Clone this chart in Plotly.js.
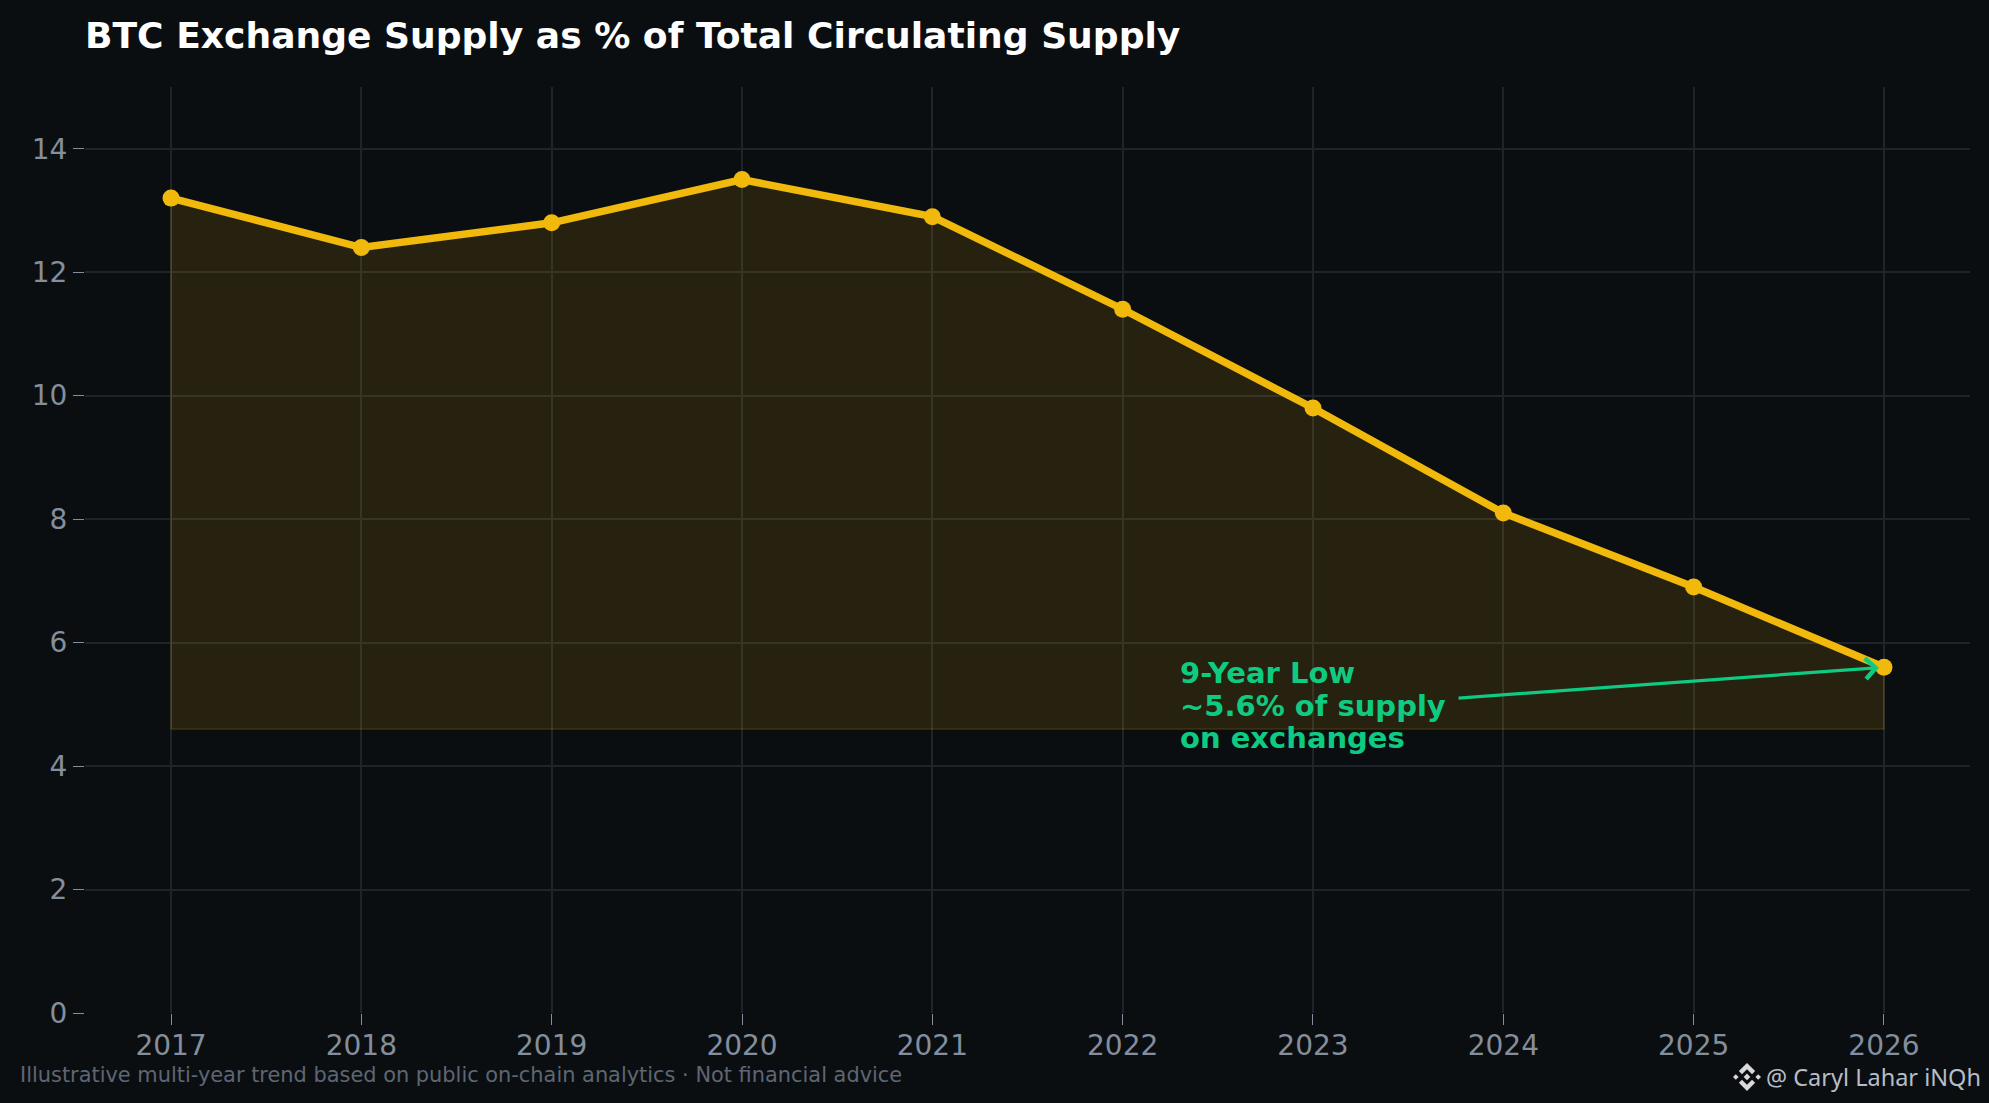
<!DOCTYPE html>
<html>
<head>
<meta charset="utf-8">
<script src="https://cdn.plot.ly/plotly-3.0.1.min.js"></script>
<style>
  html, body { margin: 0; padding: 0; background: #0b0e11; }
  #chart { width: 1989px; height: 1103px; }
</style>
</head>
<body>
<div id="chart"></div>
<script>
  const years = [2017, 2018, 2019, 2020, 2021, 2022, 2023, 2024, 2025, 2026];
  const supplyPct = [13.2, 12.4, 12.8, 13.5, 12.9, 11.4, 9.8, 8.1, 6.9, 5.6];
  const fillFloor = 4.6;
  const yTicks = [0, 2, 4, 6, 8, 10, 12, 14];
  const noteLines = ['9-Year Low', '~5.6% of supply', 'on exchanges'];
  const noteLineY = [5.5, 4.98, 4.46];

  const W = 1989;
  const H = 1103;
  const BG = '#0b0e11';
  const GOLD = '#f0b90b';
  const GREEN = '#0ecb81';
  const MUTED = '#848e9c';
  const GRID = '#20242a';
  const FONT = '"DejaVu Sans", sans-serif';

  const margin = { l: 85, r: 19, t: 86.5, b: 90, pad: 0 };

  // pixel to paper helpers, for the things that sit outside the axes
  const px = v => (v - margin.l) / (W - margin.l - margin.r);
  const py = v => 1 - (v - margin.t) / (H - margin.t - margin.b);

  const areaTrace = {
    x: [...years, years[years.length - 1], years[0], years[0]],
    y: [...supplyPct, fillFloor, fillFloor, supplyPct[0]],
    type: 'scatter',
    mode: 'lines',
    fill: 'toself',
    fillcolor: 'rgba(240,185,11,0.12)',
    line: { color: 'rgba(240,185,11,0.2)', width: 1.3 },
    hoverinfo: 'skip'
  };

  const lineTrace = {
    x: years,
    y: supplyPct,
    type: 'scatter',
    mode: 'lines+markers',
    line: { color: GOLD, width: 7.5 },
    marker: { color: GOLD, size: 17 }
  };

  function logoShape(cx, cy, s) {
    const diamond = (dx, dy, r) => {
      const x = cx + dx * s, y = cy + dy * s, d = r * s;
      return `M${px(x - d)},${py(y)}L${px(x)},${py(y - d)}L${px(x + d)},${py(y)}L${px(x)},${py(y + d)}Z`;
    };
    const chevron = (dir) => {
      const a = (x, y) => `${px(cx + x * s)},${py(cy + y * dir * s)}`;
      return `M${a(0, -1)}L${a(0.58, -0.42)}L${a(0.36, -0.2)}L${a(0, -0.56)}L${a(-0.36, -0.2)}L${a(-0.58, -0.42)}Z`;
    };
    const paths = [
      chevron(1), chevron(-1),
      diamond(0, 0, 0.24), diamond(-0.8, 0, 0.2), diamond(0.8, 0, 0.2)
    ];
    return paths.map(path => ({
      type: 'path', xref: 'paper', yref: 'paper', path,
      fillcolor: '#d9d9d9', line: { width: 0 }
    }));
  }

  const noteAnnotations = noteLines.map((line, i) => ({
    x: 2022.3, y: noteLineY[i], xref: 'x', yref: 'y',
    text: `<b>${line}</b>`,
    showarrow: false,
    xanchor: 'left', yanchor: 'middle', align: 'left',
    xshift: -2,
    font: { family: FONT, size: 29, color: GREEN }
  }));

  const layout = {
    width: W,
    height: H,
    margin,
    showlegend: false,
    paper_bgcolor: BG,
    plot_bgcolor: BG,
    font: { family: FONT, color: MUTED, size: 28 },
    title: {
      text: '<b>BTC Exchange Supply as % of Total Circulating Supply</b>',
      font: { family: FONT, size: 36.1, color: '#ffffff' },
      xref: 'container',
      yref: 'container',
      x: 85 / W,
      xanchor: 'left',
      y: 1 - 35 / H,
      yanchor: 'middle'
    },
    xaxis: {
      range: [2016.548, 2026.452],
      tickvals: years,
      ticktext: years.map(String),
      showgrid: true,
      gridcolor: GRID,
      gridwidth: 1.5,
      zeroline: false,
      showline: false,
      ticks: 'outside',
      ticklen: 11,
      tickwidth: 1.3,
      tickcolor: MUTED,
      ticklabelstandoff: -4,
      tickfont: { size: 28, color: MUTED, family: FONT }
    },
    yaxis: {
      range: [0, 15],
      tickvals: yTicks,
      ticktext: yTicks.map(String),
      showgrid: true,
      gridcolor: GRID,
      gridwidth: 1.5,
      zeroline: false,
      showline: false,
      ticks: 'outside',
      ticklen: 11,
      tickwidth: 1.3,
      tickcolor: MUTED,
      tickfont: { size: 28, color: MUTED, family: FONT }
    },
    annotations: [
      ...noteAnnotations,
      {
        x: 2026, y: 5.6, xref: 'x', yref: 'y',
        ax: 2023.757, ay: 5.1, axref: 'x', ayref: 'y',
        text: '',
        showarrow: true,
        arrowhead: 4, arrowsize: 1.25, arrowwidth: 3.2, arrowcolor: GREEN,
        standoff: 5
      },
      {
        x: px(18), y: py(1075), xref: 'paper', yref: 'paper',
        text: 'Illustrative multi-year trend based on public on-chain analytics · Not financial advice',
        showarrow: false,
        xanchor: 'left', yanchor: 'middle',
        font: { family: FONT, size: 20.9, color: '#5e6673' }
      },
      {
        x: px(1764), y: py(1077), xref: 'paper', yref: 'paper',
        text: '@ Caryl Lahar iNQh',
        showarrow: false,
        xanchor: 'left', yanchor: 'middle',
        font: { family: '"Noto Sans", sans-serif', size: 23.5, color: '#b7bdc6' }
      }
    ],
    shapes: logoShape(1747, 1077, 14)
  };

  Plotly.newPlot('chart', [areaTrace, lineTrace], layout, { displayModeBar: false, responsive: false });
</script>
</body>
</html>
